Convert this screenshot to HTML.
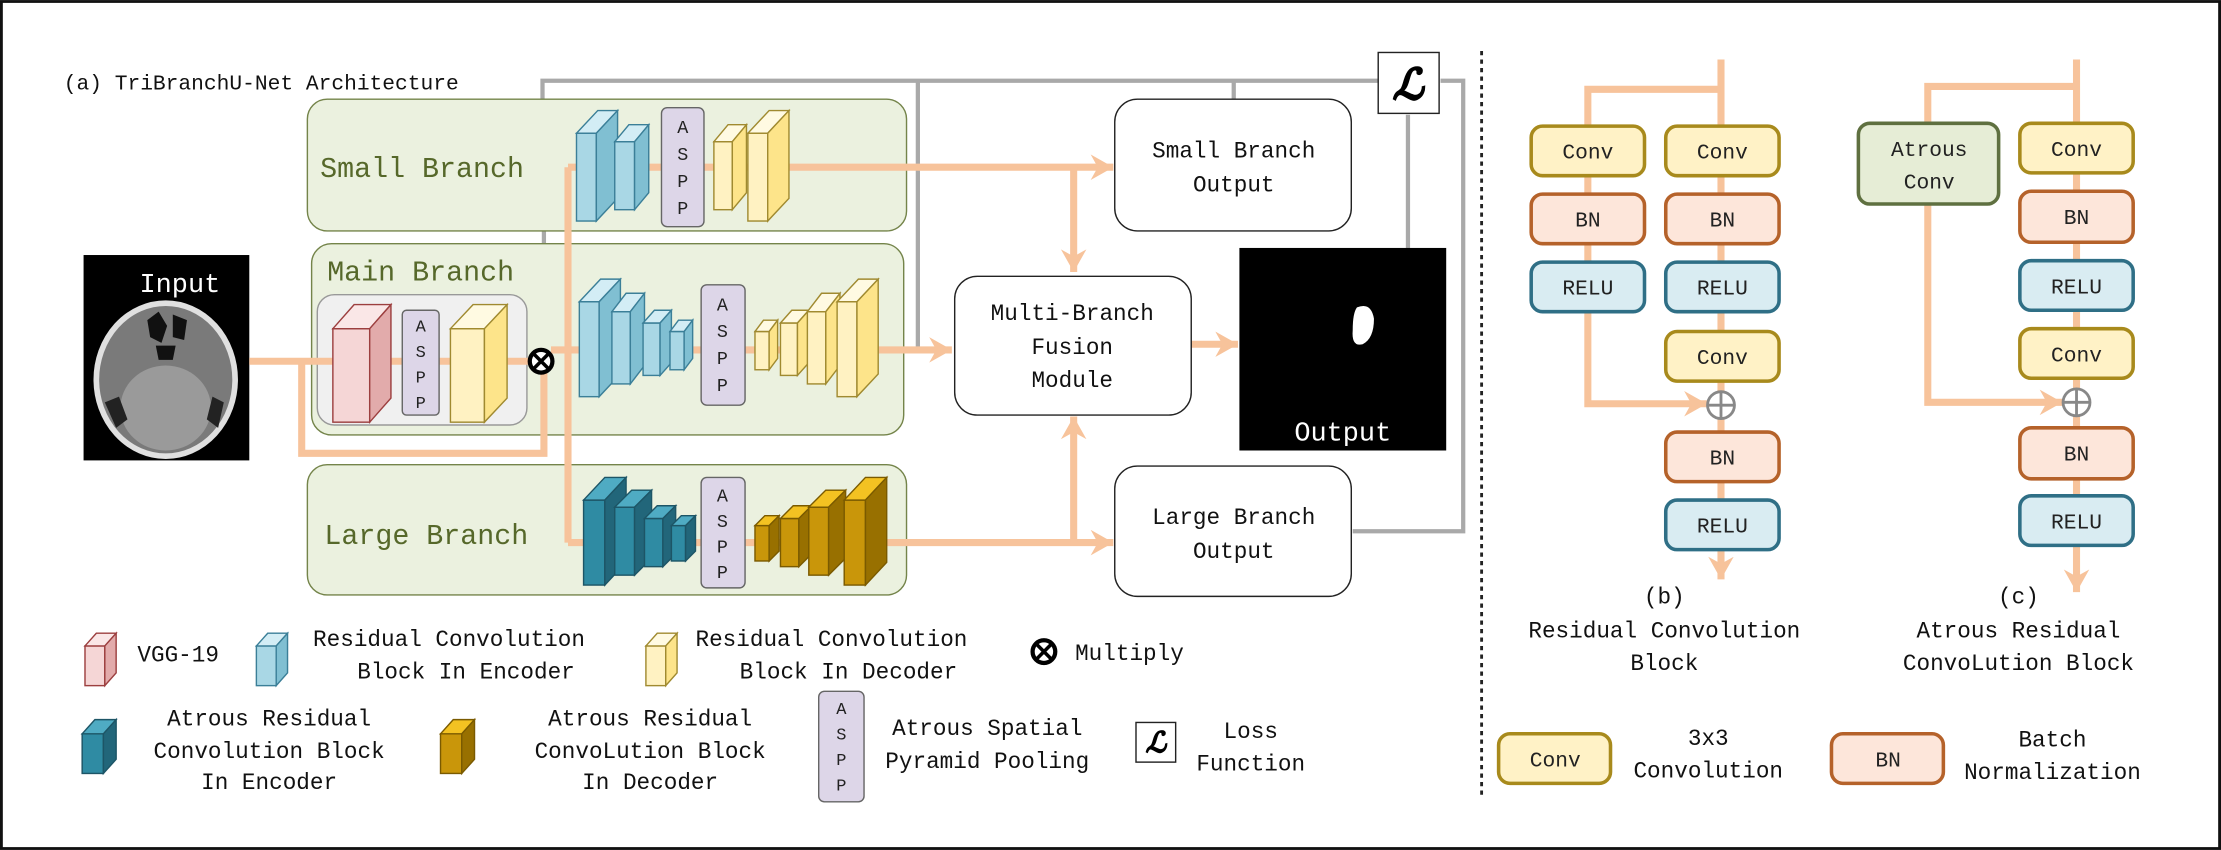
<!DOCTYPE html>
<html><head><meta charset="utf-8"><style>
html,body{margin:0;padding:0;background:#fff;}
svg{display:block;}
text{font-family:"Liberation Mono","DejaVu Sans Mono",monospace;}
.b .f{fill:#a9d7e5}.b .t{fill:#d3edf5}.b .s{fill:#80bfd2}.b *{stroke:#3b7f98;stroke-width:1}
.y .f{fill:#fff2c2}.y .t{fill:#fffae2}.y .s{fill:#fde48a}.y *{stroke:#a08a30;stroke-width:1}
.p .f{fill:#f5d6d6}.p .t{fill:#fae7e7}.p .s{fill:#e2abab}.p *{stroke:#9c3f3f;stroke-width:1}
.tl .f{fill:#2f8ba3}.tl .t{fill:#4fabc3}.tl .s{fill:#22667a}.tl *{stroke:#1d5566;stroke-width:1}
.g .f{fill:#c9960a}.g .t{fill:#f3c222}.g .s{fill:#987000}.g *{stroke:#7a5a00;stroke-width:1}
.or{stroke:#f7c39b;stroke-width:5;fill:none}
.gr{stroke:#a9a9a9;stroke-width:3;fill:none}
.conv{fill:#fff2c6;stroke:#a88a1c;stroke-width:2.5}
.bn{fill:#fde6da;stroke:#b5622a;stroke-width:2.5}
.relu{fill:#d9ecf2;stroke:#2f6f86;stroke-width:2.5}
.atr{fill:#e6edd6;stroke:#5f7040;stroke-width:2.5}
</style></head><body>
<svg width="2221" height="850" viewBox="0 0 1568 600" xmlns="http://www.w3.org/2000/svg">
<defs>
<marker id="ah" markerUnits="userSpaceOnUse" markerWidth="20" markerHeight="20" refX="16" refY="9" orient="auto">
<path d="M0,0 L16,9 L0,18 L5,9 z" fill="#f7c39b"/></marker>
</defs>
<rect x="1" y="1" width="1566" height="598" fill="#fff" stroke="#111" stroke-width="2"/>

<text x="45" y="63" font-size="15" fill="#111">(a) TriBranchU-Net Architecture</text>

<path class="gr" d="M383,70 V57 H973 M1017,57 H1033 V375 H955 M648,57 V245 M871,57 V70 M994,81 V175 M384,163 V247"/>

<rect x="217" y="70" width="423" height="93" rx="14" fill="#ebf1df" stroke="#74844a" stroke-width="1"/>
<rect x="220" y="172" width="418" height="135" rx="14" fill="#ebf1df" stroke="#74844a" stroke-width="1"/>
<rect x="224" y="208" width="148" height="92" rx="12" fill="#f0f0f0" stroke="#999" stroke-width="1"/>
<rect x="217" y="328" width="423" height="92" rx="14" fill="#ebf1df" stroke="#74844a" stroke-width="1"/>
<text x="226" y="125" font-size="20" fill="#56682a">Small Branch</text>
<text x="231" y="198" font-size="20" fill="#56682a">Main Branch</text>
<text x="229" y="384" font-size="20" fill="#56682a">Large Branch</text>

<rect x="59" y="180" width="117" height="145" fill="#000"/>
<ellipse cx="117" cy="268" rx="49" ry="54" fill="#7a7a7a" stroke="#e0e0e0" stroke-width="4"/>
<ellipse cx="117" cy="288" rx="32" ry="30" fill="#9a9a9a"/>
<path d="M104,226 l8,-6 l6,10 l-4,12 l-8,-4 z M122,222 l10,4 l-2,14 l-8,-2 z M110,244 l14,0 l-2,10 l-10,0z" fill="#111"/>
<path d="M74,284 l10,-4 l6,16 l-8,6z M150,280 l8,4 l-4,18 l-8,-6z" fill="#222"/>
<text x="127" y="206" font-size="19" fill="#fff" text-anchor="middle">Input</text>

<path class="or" d="M176,255 H375 M213,255 V320 H384 V263"/>
<path class="or" d="M389,247 H672" marker-end="url(#ah)"/>
<path class="or" d="M401,118 V383"/>
<path class="or" d="M401,118 H786" marker-end="url(#ah)"/>
<path class="or" d="M401,383 H786" marker-end="url(#ah)"/>
<path class="or" d="M758,118 V192" marker-end="url(#ah)"/>
<path class="or" d="M758,383 V294" marker-end="url(#ah)"/>
<path class="or" d="M841,243 H874" marker-end="url(#ah)"/>

<circle cx="382" cy="255" r="8" fill="#fff" stroke="#000" stroke-width="3"/>
<path d="M377,250 L387,260 M387,250 L377,260" stroke="#000" stroke-width="2.5"/>

<g class="b" transform="translate(407,94)"><rect class="f" width="14" height="62"/><polygon class="t" points="0,0 15,-16 29,-16 14,0"/><polygon class="s" points="14,0 29,-16 29,46 14,62"/></g>
<g class="b" transform="translate(434,100)"><rect class="f" width="14" height="48"/><polygon class="t" points="0,0 10,-12 24,-12 14,0"/><polygon class="s" points="14,0 24,-12 24,36 14,48"/></g>
<g class="y" transform="translate(504,100)"><rect class="f" width="13" height="48"/><polygon class="t" points="0,0 10,-12 23,-12 13,0"/><polygon class="s" points="13,0 23,-12 23,36 13,48"/></g>
<g class="y" transform="translate(528,94)"><rect class="f" width="14" height="62"/><polygon class="t" points="0,0 15,-16 29,-16 14,0"/><polygon class="s" points="14,0 29,-16 29,46 14,62"/></g>
<rect x="467" y="76" width="30" height="84" rx="4" fill="#ddd6e8" stroke="#666" stroke-width="1"/>
<g font-size="13" text-anchor="middle" fill="#222"><text x="482" y="94">A</text><text x="482" y="113">S</text><text x="482" y="132">P</text><text x="482" y="151">P</text></g>

<g class="p" transform="translate(235,232)"><rect class="f" width="26" height="66"/><polygon class="t" points="0,0 15,-17 41,-17 26,0"/><polygon class="s" points="26,0 41,-17 41,49 26,66"/></g>
<rect x="284" y="219" width="26" height="74" rx="3" fill="#ddd6e8" stroke="#666" stroke-width="1"/>
<g font-size="12" text-anchor="middle" fill="#222"><text x="297" y="234">A</text><text x="297" y="252">S</text><text x="297" y="270">P</text><text x="297" y="288">P</text></g>
<g class="y" transform="translate(318,232)"><rect class="f" width="24" height="66"/><polygon class="t" points="0,0 16,-17 40,-17 24,0"/><polygon class="s" points="24,0 40,-17 40,49 24,66"/></g>

<g class="b" transform="translate(409,213)"><rect class="f" width="14" height="67"/><polygon class="t" points="0,0 15,-16 29,-16 14,0"/><polygon class="s" points="14,0 29,-16 29,51 14,67"/></g>
<g class="b" transform="translate(432,220)"><rect class="f" width="13" height="51"/><polygon class="t" points="0,0 10,-13 23,-13 13,0"/><polygon class="s" points="13,0 23,-13 23,38 13,51"/></g>
<g class="b" transform="translate(454,228)"><rect class="f" width="12" height="37"/><polygon class="t" points="0,0 8,-9 20,-9 12,0"/><polygon class="s" points="12,0 20,-9 20,28 12,37"/></g>
<g class="b" transform="translate(473,234)"><rect class="f" width="10" height="27"/><polygon class="t" points="0,0 6,-8 16,-8 10,0"/><polygon class="s" points="10,0 16,-8 16,19 10,27"/></g>
<rect x="495" y="201" width="31" height="85" rx="4" fill="#ddd6e8" stroke="#666" stroke-width="1"/>
<g font-size="13" text-anchor="middle" fill="#222"><text x="510" y="219">A</text><text x="510" y="238">S</text><text x="510" y="257">P</text><text x="510" y="276">P</text></g>
<g class="y" transform="translate(533,234)"><rect class="f" width="10" height="27"/><polygon class="t" points="0,0 6,-8 16,-8 10,0"/><polygon class="s" points="10,0 16,-8 16,19 10,27"/></g>
<g class="y" transform="translate(551,228)"><rect class="f" width="12" height="37"/><polygon class="t" points="0,0 8,-9 20,-9 12,0"/><polygon class="s" points="12,0 20,-9 20,28 12,37"/></g>
<g class="y" transform="translate(570,220)"><rect class="f" width="13" height="51"/><polygon class="t" points="0,0 10,-13 23,-13 13,0"/><polygon class="s" points="13,0 23,-13 23,38 13,51"/></g>
<g class="y" transform="translate(591,213)"><rect class="f" width="14" height="67"/><polygon class="t" points="0,0 15,-16 29,-16 14,0"/><polygon class="s" points="14,0 29,-16 29,51 14,67"/></g>

<g class="tl" transform="translate(412,353)"><rect class="f" width="15" height="60"/><polygon class="t" points="0,0 15,-16 30,-16 15,0"/><polygon class="s" points="15,0 30,-16 30,44 15,60"/></g>
<g class="tl" transform="translate(434,358)"><rect class="f" width="14" height="48"/><polygon class="t" points="0,0 12,-12 26,-12 14,0"/><polygon class="s" points="14,0 26,-12 26,36 14,48"/></g>
<g class="tl" transform="translate(455,366)"><rect class="f" width="13" height="34"/><polygon class="t" points="0,0 9,-9 22,-9 13,0"/><polygon class="s" points="13,0 22,-9 22,25 13,34"/></g>
<g class="tl" transform="translate(474,371)"><rect class="f" width="10" height="25"/><polygon class="t" points="0,0 7,-7 17,-7 10,0"/><polygon class="s" points="10,0 17,-7 17,18 10,25"/></g>
<rect x="495" y="337" width="31" height="78" rx="4" fill="#ddd6e8" stroke="#666" stroke-width="1"/>
<g font-size="13" text-anchor="middle" fill="#222"><text x="510" y="354">A</text><text x="510" y="372">S</text><text x="510" y="390">P</text><text x="510" y="408">P</text></g>
<g class="g" transform="translate(533,371)"><rect class="f" width="10" height="25"/><polygon class="t" points="0,0 7,-7 17,-7 10,0"/><polygon class="s" points="10,0 17,-7 17,18 10,25"/></g>
<g class="g" transform="translate(551,366)"><rect class="f" width="13" height="34"/><polygon class="t" points="0,0 9,-9 22,-9 13,0"/><polygon class="s" points="13,0 22,-9 22,25 13,34"/></g>
<g class="g" transform="translate(571,358)"><rect class="f" width="14" height="48"/><polygon class="t" points="0,0 12,-12 26,-12 14,0"/><polygon class="s" points="14,0 26,-12 26,36 14,48"/></g>
<g class="g" transform="translate(596,353)"><rect class="f" width="15" height="60"/><polygon class="t" points="0,0 15,-16 30,-16 15,0"/><polygon class="s" points="15,0 30,-16 30,44 15,60"/></g>

<rect x="787" y="70" width="167" height="93" rx="16" fill="#fff" stroke="#222" stroke-width="1"/>
<text x="871" y="111" font-size="16" text-anchor="middle" fill="#111">Small Branch</text>
<text x="871" y="135" font-size="16" text-anchor="middle" fill="#111">Output</text>
<rect x="674" y="195" width="167" height="98" rx="16" fill="#fff" stroke="#222" stroke-width="1"/>
<text x="757" y="226" font-size="16" text-anchor="middle" fill="#111">Multi-Branch</text>
<text x="757" y="250" font-size="16" text-anchor="middle" fill="#111">Fusion</text>
<text x="757" y="273" font-size="16" text-anchor="middle" fill="#111">Module</text>
<rect x="787" y="329" width="167" height="92" rx="16" fill="#fff" stroke="#222" stroke-width="1"/>
<text x="871" y="370" font-size="16" text-anchor="middle" fill="#111">Large Branch</text>
<text x="871" y="394" font-size="16" text-anchor="middle" fill="#111">Output</text>
<rect x="875" y="175" width="146" height="143" fill="#000"/>
<path d="M958,217 q10,-4 12,8 q0,14 -8,18 q-8,2 -7,-10 q0,-12 3,-16z" fill="#fff"/>
<text x="948" y="311" font-size="19" text-anchor="middle" fill="#fff">Output</text>
<rect x="973" y="37" width="43" height="43" fill="#fff" stroke="#222" stroke-width="1"/>
<text x="994" y="70" font-size="30" font-family="Liberation Serif,serif" font-style="italic" font-weight="bold" text-anchor="middle" fill="#000" stroke="#000" stroke-width="0.8">ℒ</text>

<g class="p" transform="translate(60,456)"><rect class="f" width="14" height="28"/><polygon class="t" points="0,0 8,-9 22,-9 14,0"/><polygon class="s" points="14,0 22,-9 22,19 14,28"/></g>
<text x="97" y="467" font-size="16" fill="#111">VGG-19</text>
<g class="b" transform="translate(181,456)"><rect class="f" width="14" height="28"/><polygon class="t" points="0,0 8,-9 22,-9 14,0"/><polygon class="s" points="14,0 22,-9 22,19 14,28"/></g>
<text x="221" y="456" font-size="16" fill="#111">Residual Convolution</text>
<text x="329" y="479" font-size="16" text-anchor="middle" fill="#111">Block In Encoder</text>
<g class="y" transform="translate(456,456)"><rect class="f" width="14" height="28"/><polygon class="t" points="0,0 8,-9 22,-9 14,0"/><polygon class="s" points="14,0 22,-9 22,19 14,28"/></g>
<text x="491" y="456" font-size="16" fill="#111">Residual Convolution</text>
<text x="599" y="479" font-size="16" text-anchor="middle" fill="#111">Block In Decoder</text>
<circle cx="737" cy="460" r="8" fill="#fff" stroke="#000" stroke-width="3"/>
<path d="M732,455 L742,465 M742,455 L732,465" stroke="#000" stroke-width="2.5"/>
<text x="759" y="466" font-size="16" fill="#111">Multiply</text>

<g class="tl" transform="translate(58,518)"><rect class="f" width="15" height="28"/><polygon class="t" points="0,0 9,-10 24,-10 15,0"/><polygon class="s" points="15,0 24,-10 24,18 15,28"/></g>
<g font-size="16" text-anchor="middle" fill="#111">
<text x="190" y="512">Atrous Residual</text><text x="190" y="535">Convolution Block</text><text x="190" y="557">In Encoder</text>
<text x="459" y="512">Atrous Residual</text><text x="459" y="535">ConvoLution Block</text><text x="459" y="557">In Decoder</text>
<text x="697" y="519">Atrous Spatial</text><text x="697" y="542">Pyramid Pooling</text>
<text x="883" y="521">Loss</text><text x="883" y="544">Function</text>
</g>
<g class="g" transform="translate(311,518)"><rect class="f" width="15" height="28"/><polygon class="t" points="0,0 9,-10 24,-10 15,0"/><polygon class="s" points="15,0 24,-10 24,18 15,28"/></g>
<rect x="578" y="488" width="32" height="78" rx="4" fill="#ddd6e8" stroke="#666" stroke-width="1"/>
<g font-size="12" text-anchor="middle" fill="#222"><text x="594" y="504">A</text><text x="594" y="522">S</text><text x="594" y="540">P</text><text x="594" y="558">P</text></g>
<rect x="802" y="510" width="28" height="28" fill="#fff" stroke="#222" stroke-width="1"/>
<text x="816" y="531" font-size="20" font-family="Liberation Serif,serif" font-style="italic" font-weight="bold" text-anchor="middle" fill="#000" stroke="#000" stroke-width="0.5">ℒ</text>

<line x1="1046" y1="36" x2="1046" y2="563" stroke="#222" stroke-width="2" stroke-dasharray="3,3"/>

<path class="or" d="M1215,42 V409" marker-end="url(#ah)"/>
<path class="or" d="M1215,63 H1121 V285 H1205" marker-end="url(#ah)"/>
<rect class="conv" x="1081" y="89" width="80" height="35" rx="8"/>
<rect class="bn" x="1081" y="137" width="80" height="35" rx="8"/>
<rect class="relu" x="1081" y="185" width="80" height="35" rx="8"/>
<rect class="conv" x="1176" y="89" width="80" height="35" rx="8"/>
<rect class="bn" x="1176" y="137" width="80" height="35" rx="8"/>
<rect class="relu" x="1176" y="185" width="80" height="35" rx="8"/>
<rect class="conv" x="1176" y="234" width="80" height="35" rx="8"/>
<rect class="bn" x="1176" y="305" width="80" height="35" rx="8"/>
<rect class="relu" x="1176" y="353" width="80" height="35" rx="8"/>
<circle cx="1215" cy="286" r="9.5" fill="#fff" stroke="#888" stroke-width="2"/>
<path d="M1205.5,286 H1224.5 M1215,276.5 V295.5" stroke="#888" stroke-width="2"/>
<g font-size="15" text-anchor="middle" fill="#222">
<text x="1121" y="112">Conv</text><text x="1121" y="160">BN</text><text x="1121" y="208">RELU</text>
<text x="1216" y="112">Conv</text><text x="1216" y="160">BN</text><text x="1216" y="208">RELU</text>
<text x="1216" y="257">Conv</text><text x="1216" y="328">BN</text><text x="1216" y="376">RELU</text>
</g>
<g font-size="16" text-anchor="middle" fill="#111">
<text x="1175" y="426">(b)</text><text x="1175" y="450">Residual Convolution</text><text x="1175" y="473">Block</text>
<text x="1425" y="426">(c)</text><text x="1425" y="450">Atrous Residual</text><text x="1425" y="473">ConvoLution Block</text>
</g>

<path class="or" d="M1466,42 V418" marker-end="url(#ah)"/>
<path class="or" d="M1466,61 H1361 V284 H1456" marker-end="url(#ah)"/>
<rect class="atr" x="1312" y="87" width="99" height="57" rx="8"/>
<rect class="conv" x="1426" y="87" width="80" height="35" rx="8"/>
<rect class="bn" x="1426" y="135" width="80" height="36" rx="8"/>
<rect class="relu" x="1426" y="184" width="80" height="35" rx="8"/>
<rect class="conv" x="1426" y="232" width="80" height="35" rx="8"/>
<rect class="bn" x="1426" y="302" width="80" height="36" rx="8"/>
<rect class="relu" x="1426" y="350" width="80" height="35" rx="8"/>
<circle cx="1466" cy="284" r="9.5" fill="#fff" stroke="#888" stroke-width="2"/>
<path d="M1456.5,284 H1475.5 M1466,274.5 V293.5" stroke="#888" stroke-width="2"/>
<g font-size="15" text-anchor="middle" fill="#222">
<text x="1362" y="110">Atrous</text><text x="1362" y="133">Conv</text>
<text x="1466" y="110">Conv</text><text x="1466" y="158">BN</text><text x="1466" y="207">RELU</text>
<text x="1466" y="255">Conv</text><text x="1466" y="325">BN</text><text x="1466" y="373">RELU</text>
</g>

<rect class="conv" x="1058" y="518" width="79" height="35" rx="8"/>
<rect class="bn" x="1293" y="518" width="79" height="35" rx="8"/>
<g font-size="15" text-anchor="middle" fill="#222"><text x="1098" y="541">Conv</text><text x="1333" y="541">BN</text></g>
<g font-size="16" text-anchor="middle" fill="#111">
<text x="1206" y="526">3x3</text><text x="1206" y="549">Convolution</text>
<text x="1449" y="527">Batch</text><text x="1449" y="550">Normalization</text>
</g>
</svg>
</body></html>
